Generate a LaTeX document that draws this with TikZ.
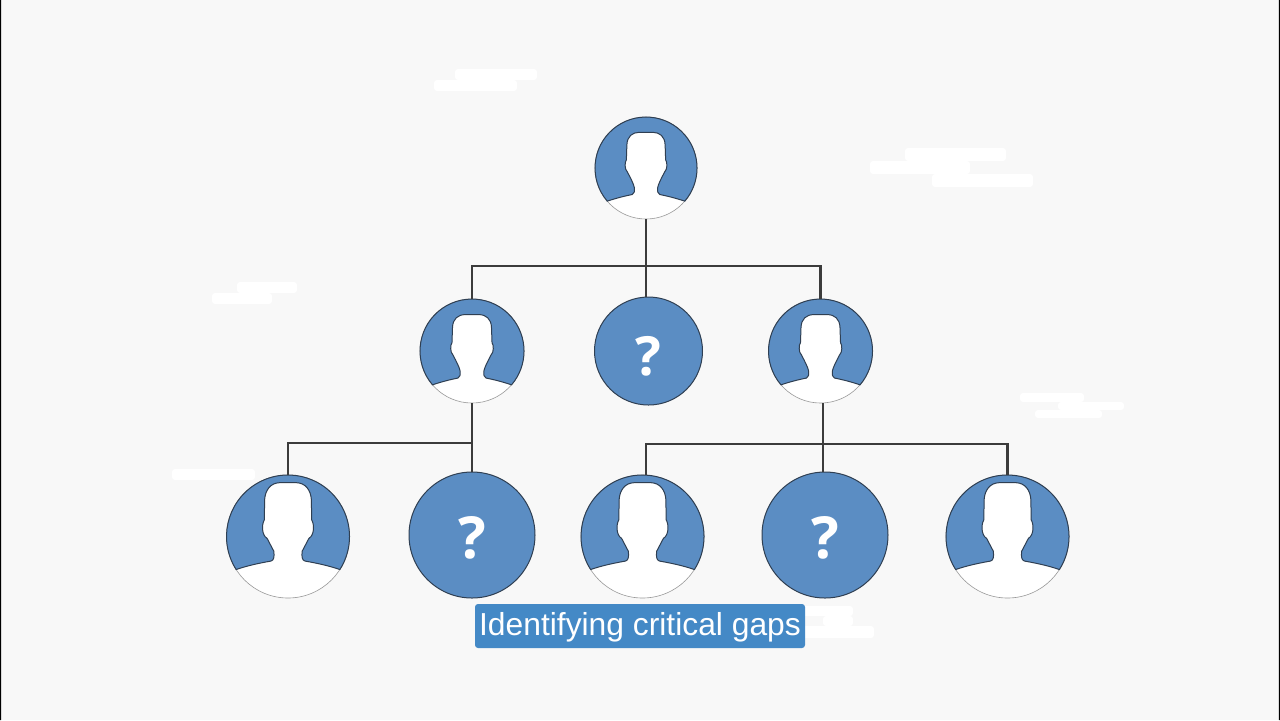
\documentclass[tikz,border=0pt]{standalone}
\usepackage{fontspec}
\setmainfont{Liberation Sans}
\newfontfamily\askfont{Open Sans}
\definecolor{paper}{HTML}{F8F8F8}
\definecolor{disc}{HTML}{5B8DC3}
\definecolor{rim}{HTML}{2F3F52}
\definecolor{wirecol}{HTML}{3C3C3C}
\definecolor{caption}{HTML}{4489C6}
\tikzset{
	personbox/.style={circle, inner sep=0pt, fill=white, draw=gray!80, line width=0.3pt},
	askbox/.style={circle, inner sep=0pt, fill=disc, draw=rim, line width=0.5pt, text=white, text depth=0pt},
	wire/.style={wirecol, line width=1.3pt},
	cloudbar/.style={white, rounded corners=1.5pt},
	iconpart/.style={fill=disc, draw=rim, line width=0.5pt},
}
\newcommand{\smallperson}[2]{
	\begin{scope}[shift={(#1.center)}, scale=#2]
		\filldraw[iconpart] (-0.76,0.65) arc[start angle=139.5, end angle=400.5, radius=1]
			.. controls (0.58,0.59) and (0.42,0.55) .. (0.27,0.52)
			.. controls (0.23,0.51) and (0.22,0.45) .. (0.23,0.38)
			.. controls (0.24,0.32) and (0.3,0.2) .. (0.37,0.07)
			.. controls (0.42,0.03) and (0.42,-0.12) .. (0.385,-0.16)
			-- (0.375,-0.45)
			.. controls (0.37,-0.62) and (0.27,-0.7) .. (0.13,-0.7)
			-- (-0.13,-0.7)
			.. controls (-0.27,-0.7) and (-0.37,-0.62) .. (-0.375,-0.45)
			-- (-0.385,-0.16)
			.. controls (-0.42,-0.12) and (-0.42,0.03) .. (-0.37,0.07)
			.. controls (-0.3,0.2) and (-0.24,0.32) .. (-0.23,0.38)
			.. controls (-0.22,0.45) and (-0.23,0.51) .. (-0.27,0.52)
			.. controls (-0.42,0.55) and (-0.58,0.59) .. (-0.76,0.65) -- cycle;
	\end{scope}
}
\newcommand{\bigperson}[2]{
	\begin{scope}[shift={(#1.center)}, scale=#2]
		\filldraw[iconpart] (-0.843,0.537) arc[start angle=147.5, end angle=392.5, radius=1]
			.. controls (0.65,0.47) and (0.45,0.43) .. (0.28,0.4)
			.. controls (0.23,0.39) and (0.22,0.33) .. (0.23,0.24)
			-- (0.34,0.03)
			.. controls (0.43,-0.02) and (0.43,-0.2) .. (0.385,-0.27)
			-- (0.38,-0.6)
			.. controls (0.37,-0.76) and (0.28,-0.87) .. (0.14,-0.875)
			-- (-0.14,-0.875)
			.. controls (-0.28,-0.87) and (-0.37,-0.76) .. (-0.38,-0.6)
			-- (-0.385,-0.27)
			.. controls (-0.43,-0.2) and (-0.43,-0.02) .. (-0.34,0.03)
			-- (-0.23,0.24)
			.. controls (-0.22,0.33) and (-0.23,0.39) .. (-0.28,0.4)
			.. controls (-0.45,0.43) and (-0.65,0.47) .. (-0.843,0.537) -- cycle;
	\end{scope}
}
\begin{document}
\begin{tikzpicture}[x=0.5pt, y=-0.5pt]
	\useasboundingbox (0,0) rectangle (1280,720);
	\fill[paper] (0,0) rectangle (1280,720);
	\fill[black] (0,0) rectangle (1.2,720) (1278.8,0) rectangle (1280,720);

	% clouds
	\fill[cloudbar] (455,69) rectangle (537,80);
	\fill[cloudbar] (434,80) rectangle (517,91);
	\fill[cloudbar] (905,148) rectangle (1006,161);
	\fill[cloudbar] (870,161) rectangle (970,174);
	\fill[cloudbar] (932,174) rectangle (1033,187);
	\fill[cloudbar] (1020,393) rectangle (1084,402);
	\fill[cloudbar] (1058,402) rectangle (1124,410);
	\fill[cloudbar] (1035,410) rectangle (1102,418);
	\fill[cloudbar] (237,282) rectangle (297,293);
	\fill[cloudbar] (212,293) rectangle (272,304);
	\fill[cloudbar] (172,469) rectangle (255,480);
	\fill[cloudbar] (800,606) rectangle (853,616);
	\fill[cloudbar] (823,616) rectangle (853,626);
	\fill[cloudbar] (800,626) rectangle (874,638);

	% people
	\node[personbox, minimum size=51pt] (root) at (646,168) {};
	\node[personbox, minimum size=52pt] (lefta) at (472,351) {};
	\node[askbox, minimum size=54pt, text height=24pt, font=\askfont\bfseries\fontsize{27}{27}\selectfont] (aska) at (648.5,351) {?};
	\node[personbox, minimum size=52pt] (righta) at (820.5,351) {};
	\node[personbox, minimum size=61.5pt] (leftb) at (288,536.5) {};
	\node[askbox, minimum size=63pt, text height=23pt, font=\askfont\bfseries\fontsize{29}{29}\selectfont] (askb) at (472,535) {?};
	\node[personbox, minimum size=61.5pt] (midb) at (642.5,536.5) {};
	\node[askbox, minimum size=63pt, text height=23pt, font=\askfont\bfseries\fontsize{29}{29}\selectfont] (askc) at (825,535) {?};
	\node[personbox, minimum size=61.5pt] (rightb) at (1007.5,536.5) {};
	\smallperson{root}{51}
	\smallperson{lefta}{52}
	\smallperson{righta}{52}
	\bigperson{leftb}{61.5}
	\bigperson{midb}{61.5}
	\bigperson{rightb}{61.5}

	% wires
	\coordinate (busa) at (646,266);
	\coordinate (busb) at (472,443);
	\coordinate (busc) at (823,444);
	\coordinate (busd) at (646,444);
	\draw[wire] (root.south) -- (busa);
	\draw[wire] (busa) -- (busa |- aska.north);
	\draw[wire] (lefta.north) |- (busa) -| (righta.north);
	\draw[wire] (lefta.south) -- (askb.north);
	\draw[wire] (leftb.north) |- (busb);
	\draw[wire] (busc |- righta.south) -- (busc |- askc.north);
	\draw[wire] (busd |- midb.north) |- (busc) -| (rightb.north);

	% caption
	\node[fill=caption, text=white, rounded corners=1.5pt, inner sep=0pt, minimum width=165pt, minimum height=22pt, text height=12pt, text depth=3pt, font=\fontsize{15.9}{16}\selectfont] (gaps) at (640,626) {Identifying critical gaps};
\end{tikzpicture}
\end{document}
